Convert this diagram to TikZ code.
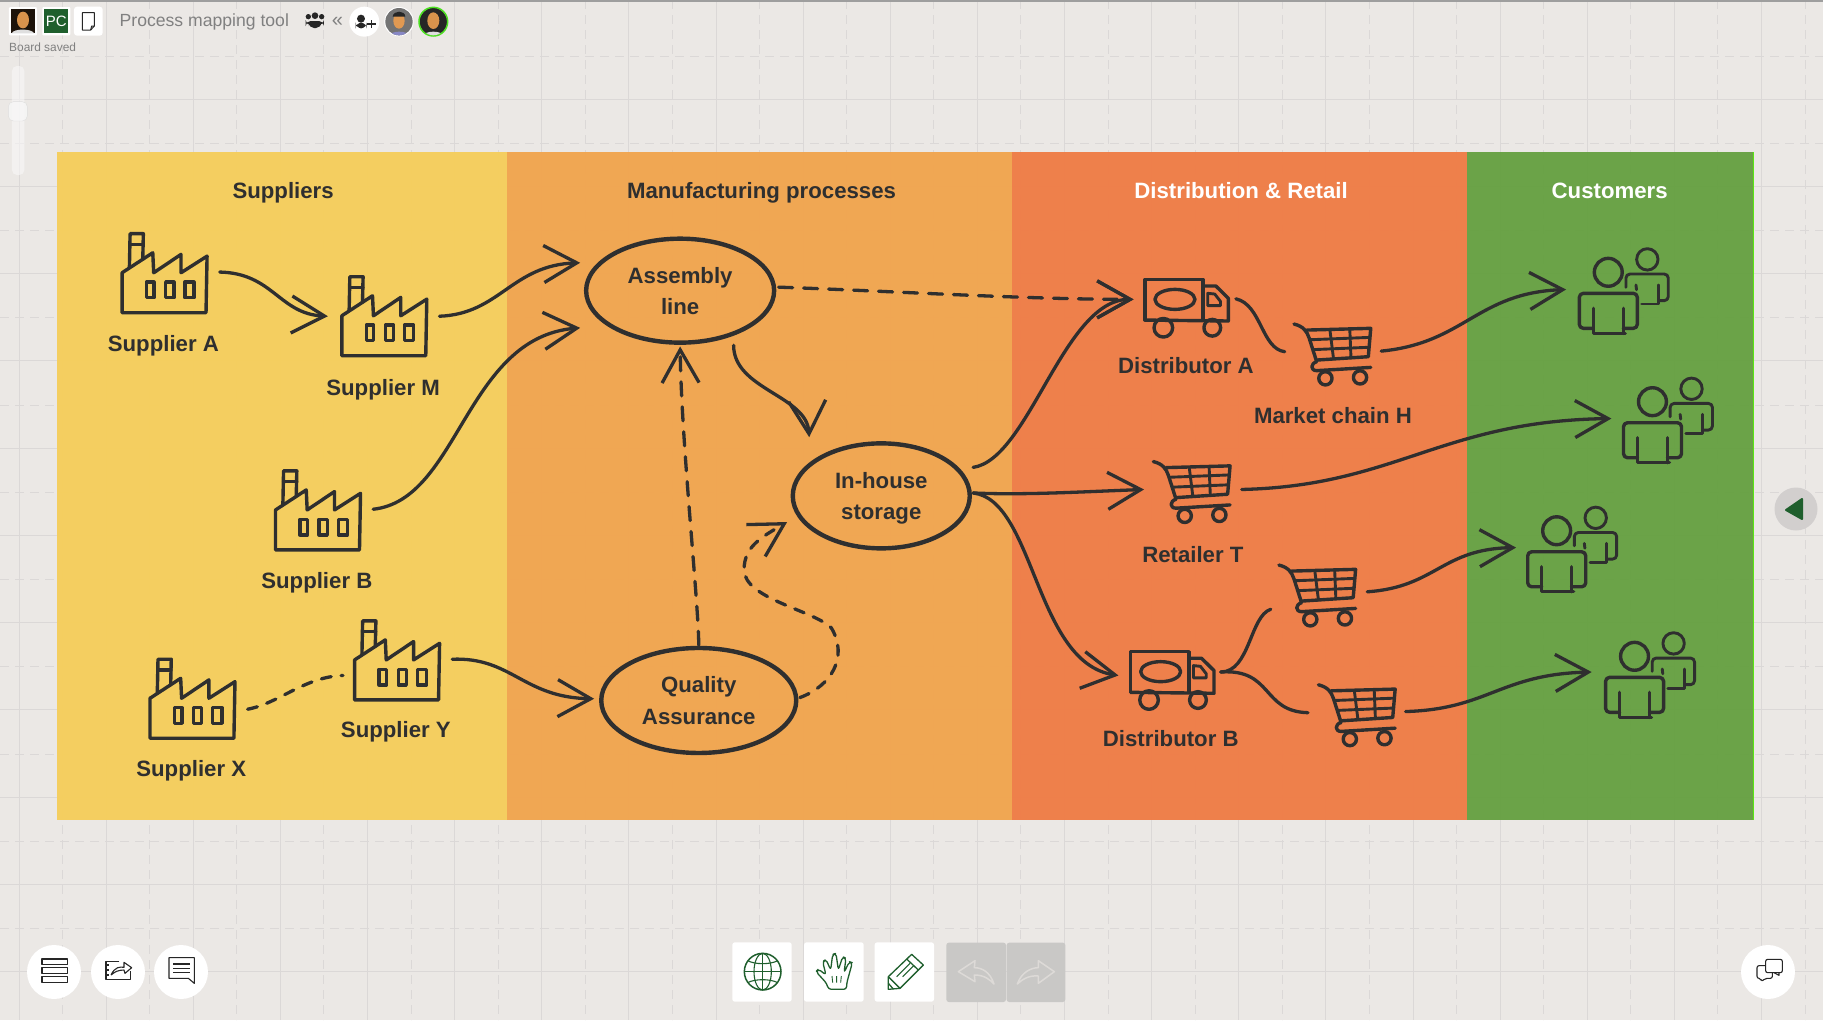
\documentclass[tikz,border=0pt]{standalone}
\usepackage{fontspec}
\setmainfont{Liberation Sans}
\usetikzlibrary{arrows.meta,shapes.geometric,calc}
\definecolor{bgc}{HTML}{EBE8E5}
\definecolor{gridc}{HTML}{DBD8D7}
\definecolor{ink}{HTML}{2F2F2F}
\definecolor{yel}{HTML}{F5CE5C}
\definecolor{org}{HTML}{F1A54F}
\definecolor{redo}{HTML}{EF7D47}
\definecolor{grn}{HTML}{67A143}
\definecolor{uigreen}{HTML}{1F5F2D}
\definecolor{btngrey}{HTML}{C9C8C6}
\tikzset{
  ico/.style={draw=ink,line width=3.4pt,line join=round,line cap=round},
  icofine/.style={draw=ink,line width=2.9pt,line join=round,line cap=round},
  flow/.style={draw=ink,line width=3.3pt,line cap=round,-{Straight Barb[length=33pt,width=37pt,line width=3.3pt]}},
  link/.style={draw=ink,line width=3.3pt,line cap=round},
  dsh/.style={dash pattern=on 14pt off 11pt},
  dshshort/.style={dash pattern=on 10pt off 10pt},
  lbl/.style={font=\fontsize{22.2}{26}\selectfont\bfseries,text=ink,inner sep=0pt,text height=15.5pt,text depth=0.5pt},
  head/.style={font=\fontsize{22.2}{26}\selectfont\bfseries,inner sep=0pt,text height=15.5pt,text depth=0.5pt},
  proc/.style={ellipse,draw=ink,line width=4.4pt,inner sep=0pt,align=center,text=ink,
    font=\fontsize{22.2}{31.4}\selectfont\bfseries},
  uiline/.style={draw=black!85,line width=1.1pt,line join=round},
  gline/.style={draw=uigreen,line width=1.1pt,line join=round},
  whitebtn/.style={fill=white,rounded corners=2.5pt},
  greybtn/.style={fill=btngrey,rounded corners=2.5pt},
  factory/.pic={
    \draw[ico] (0,0) -- (0,-34.4) -- (26.4,-51.6) -- (27.2,-34.4) -- (50.7,-50.2) -- (50.7,-34.4) -- (73.1,-48.7) -- (72.2,0) -- cycle;
    \draw[ico] (6.3,-38.7) -- (6.9,-68) -- (18.3,-68) -- (17.8,-45.9);
    \draw[ico] (6.9,-58.8) -- (18.1,-58.8);
    \draw[ico] (21,-12.9) rectangle (27.4,-26.4);
    \draw[ico] (37.5,-12.9) rectangle (44.5,-26.4);
    \draw[ico] (54,-12.9) rectangle (61.8,-26.4);
  },
  truck/.pic={
    \draw[ico] (0,35) -- (0,0) -- (50,0) -- (50,35);
    \draw[ico] (50.2,5.7) -- (61,5.7) -- (71.7,16.3) -- (71.7,35.8) -- (0,35);
    \draw[icofine] (54,12) -- (60,12.6) -- (65,19) -- (65,22.6) -- (54,22.6) -- cycle;
    \draw[ico] (25.8,17.2) ellipse[x radius=17.2,y radius=8.6];
    \draw[ico] (15.8,41.6) circle[radius=8];
    \draw[ico] (57.9,41.6) circle[radius=7.2];
  },
  cart/.pic={
    \draw[ico] (0,0) .. controls (8,2) and (11,6) .. (13,12) -- (19.5,32.4) .. controls (14,34) and (14,40) .. (19.5,40.1) -- (66,37.3);
    \draw[ico] (10.9,5.2) -- (66,3.7) -- (63.9,28.1) -- (19.5,31);
    \draw[icofine] (14,13.5) -- (65,11.5);
    \draw[icofine] (17,22) -- (64.5,20);
    \draw[icofine] (31,6) -- (34,30);
    \draw[icofine] (48,5) -- (49,29);
    \draw[ico] (27,46.7) circle[radius=5.7];
    \draw[ico] (56.8,45.9) circle[radius=5.7];
  },
  people/.pic={
    \draw[ico] (24.9,-52.5) circle[radius=12];
    \draw[ico,rounded corners=4pt] (12,-4.3) -- (0,-4.3) -- (0,-34.4) -- (49.9,-34.4) -- (49.9,-4.3) -- (37.8,-4.3);
    \draw[ico] (12,-21.5) -- (12,0) -- (39.5,0);
    \draw[ico] (37.8,-21.5) -- (37.8,0);
    \draw[icofine] (58.5,-63.6) circle[radius=9.2];
    \draw[icofine,rounded corners=4pt] (40.1,-39.6) -- (40.1,-51) -- (76.5,-51) -- (76.5,-28.1) -- (68,-28.1);
    \draw[icofine] (68,-41.6) -- (68,-25.2) -- (53.6,-25.2);
    \draw[icofine] (48.7,-41.6) -- (49.2,-37.5);
  },
}
\begin{document}
\begin{tikzpicture}[x=1pt,y=-1pt]
\useasboundingbox (0,0) rectangle (1823,1020);
\fill[bgc] (0,0) rectangle (1823,1020);
% board grid
\foreach \k in {0,...,20} {
  \draw[gridc,line width=1pt] ({19+87.13*\k},0) -- ({19+87.13*\k},1020);
  \draw[gridc,line width=1pt,dash pattern=on 9pt off 6pt] ({62.5+87.13*\k},0) -- ({62.5+87.13*\k},1020);
}
\foreach \k in {0,...,10} {
  \draw[gridc,line width=1pt] (0,{99+87.27*\k}) -- (1823,{99+87.27*\k});
  \draw[gridc,line width=1pt,dash pattern=on 9pt off 6pt] (0,{56+87.27*\k}) -- (1823,{56+87.27*\k});
}
\draw[black!38,line width=1.2pt] (0,1) -- (1823,1);
% top bar
\begin{scope}[shift={(0,0)},x=.33333pt,y=-.33333pt]
  % avatar 1
  \fill[white,rounded corners=1pt] (27,21) rectangle (111,106);
  \begin{scope}
    \clip (33,27) rectangle (105,100);
    \fill[black!85!brown] (33,27) rectangle (105,100);
    \fill[white!75!gray] (35,100) .. controls (40,85) and (95,85) .. (103,100) -- cycle;
    \fill[brown!70!orange!85!white] (69,60) ellipse[x radius=18,y radius=25];
  \end{scope}
  % PC
  \fill[white,rounded corners=1pt] (127,21) rectangle (211,106);
  \fill[uigreen] (133,27) rectangle (205,100);
  \node[text=white,font=\fontsize{15}{18}\selectfont,inner sep=0pt] (pc) at (169,64) {PC};
  % blank note
  \fill[white,rounded corners=3pt] (222,20) rectangle (308,107);
  \draw[uiline,line width=1pt] (247,38) -- (283,38) -- (283,78) -- (272,90) -- (247,90) -- cycle;
  \draw[uiline,line width=1pt] (283,78) -- (275,78) -- (272,90);
  % group icon
  \fill[black!85] (945,47) circle[radius=10];
  \fill[black!85] (925,50) circle[radius=8];
  \fill[black!85] (965,50) circle[radius=8];
  \fill[black!85,rounded corners=5pt] (917,75) -- (917,63) -- (972,63) -- (972,75) -- cycle;
  \fill[black!85,rounded corners=5pt] (927,84) -- (927,63) -- (963,63) -- (963,84) -- cycle;
  % add user
  \fill[white] (1093,65) circle[radius=45];
  \fill[black!85] (1083,56) circle[radius=12];
  \fill[black!85,rounded corners=6pt] (1067,85) -- (1067,68) -- (1100,68) -- (1100,85) -- cycle;
  \draw[black!85,line width=1.7pt] (1102,72) -- (1127,72) (1114.5,60) -- (1114.5,84);
  % avatar 2
  \fill[white] (1197,65) circle[radius=44];
  \begin{scope}
    \clip (1197,65) circle[radius=41];
    \fill[black!55] (1150,20) rectangle (1245,110);
    \fill[blue!35!gray!70!white] (1165,110) .. controls (1170,90) and (1225,90) .. (1230,110) -- cycle;
    \fill[brown!60!orange!80!white] (1197,62) ellipse[x radius=17,y radius=24];
    \fill[black!85] (1178,50) .. controls (1180,30) and (1215,30) .. (1216,50) -- cycle;
  \end{scope}
  % avatar 3
  \fill[black!85] (1300,65) circle[radius=42];
  \draw[green!70!lime!75!gray,line width=1.5pt] (1300,65) circle[radius=43];
  \begin{scope}
    \clip (1300,65) circle[radius=41];
    \fill[white!75!gray] (1265,110) .. controls (1275,90) and (1325,90) .. (1335,110) -- cycle;
    \fill[brown!70!orange!85!white] (1300,62) ellipse[x radius=18,y radius=25];
  \end{scope}
  % slider
  \fill[black!2!white,opacity=.55,rounded corners=5pt] (36,198) rectangle (73,525);
  \draw[black!15,fill=black!3!white,opacity=.8,rounded corners=5pt] (25,305) rectangle (82,363);
\end{scope}
\node[anchor=base west,text=black!50,font=\fontsize{17.6}{21}\selectfont,inner sep=0pt] (title) at (119.5,26) {Process mapping tool};
\node[anchor=base west,text=black!50,font=\fontsize{11.9}{14}\selectfont,inner sep=0pt] (saved) at (9,51) {Board saved};
\node[anchor=base,text=black!50,font=\fontsize{20}{24}\selectfont,inner sep=0pt] (chev) at (337.5,26.5) {«};
% side handle
\fill[black!4!gridc] (1796,509) circle[radius=21.5];
\fill[uigreen,draw=uigreen,line width=2pt,line join=round] (1786,510) -- (1802,499) -- (1802,519) -- cycle;
% bottom left
\fill[white] (54,972) circle[radius=27];
\fill[white] (118,972) circle[radius=27];
\fill[white] (181,972) circle[radius=27];
\fill[white] (1768,972) circle[radius=27];
\begin{scope}[shift={(0,920)},x=.33333pt,y=-.33333pt]
  \draw[uiline,line width=1.5pt] (126,117) rectangle (203,133);
  \draw[uiline,line width=1.5pt] (126,143) rectangle (203,160);
  \draw[uiline,line width=1.5pt] (126,169) rectangle (203,187);
  \draw[uiline] (358,125) -- (318,125) -- (318,178) -- (392,178) -- (392,152);
  \draw[uiline] (318,135) -- (328,135) (318,150) -- (328,150) (318,165) -- (328,165);
  \draw[uiline] (333,165) .. controls (345,140) and (360,140) .. (372,142) -- (372,127) -- (395,143) -- (375,160) -- (372,150) .. controls (355,150) and (345,155) .. (333,165);
  \draw[uiline] (507,113) -- (583,113) -- (583,190) -- (565,175) -- (507,175) -- cycle;
  \draw[uiline,line width=1.4pt] (520,132) -- (570,132) (520,145) -- (570,145) (520,158) -- (570,158);
\end{scope}
\begin{scope}[shift={(1700,920)},x=.33333pt,y=-.33333pt]
  \draw[uiline,fill=white,rounded corners=2pt] (197,118) rectangle (247,158);
  \draw[uiline,rounded corners=2pt] (197,137) -- (171,137) -- (171,175) -- (183,175) -- (185,185) -- (195,175) -- (217,175) -- (217,158);
  \draw[uiline] (222,158) -- (237,166) -- (237,158);
\end{scope}
% bottom centre toolbar
\begin{scope}[shift={(710,920)},x=.33333pt,y=-.33333pt]
  \fill[whitebtn] (67,67) rectangle (245,245);
  \fill[whitebtn] (282,67) rectangle (461,245);
  \fill[whitebtn] (494,67) rectangle (672,245);
  \fill[greybtn] (709,68) rectangle (888,246);
  \fill[greybtn] (890,68) rectangle (1066,246);
  % globe
  \draw[gline,line width=1.5pt] (158,155) circle[radius=55];
  \draw[gline] (158,155) ellipse[x radius=26,y radius=55];
  \draw[gline] (158,100) -- (158,210) (103,155) -- (213,155);
  \draw[gline] (113,122) .. controls (135,134) and (181,134) .. (203,122);
  \draw[gline] (113,188) .. controls (135,176) and (181,176) .. (203,188);
  % hand
  \draw[gline,line width=1.3pt,rounded corners=3pt] (355,208) -- (350,190) -- (318,155) -- (325,147) -- (348,165) -- (338,125) -- (348,118) -- (362,150) -- (368,103) -- (378,100) -- (385,150) -- (398,110) -- (408,115) -- (402,158) -- (418,125) -- (427,128) -- (410,190) -- (410,208) -- cycle;
  \draw[gline,line width=.9pt] (366,168) -- (368,188) (380,168) -- (380,188) (394,168) -- (392,188);
  % pencil
  \draw[gline,line width=1.3pt] (535,170) -- (605,103) -- (640,135) -- (570,205) -- (535,208) -- cycle;
  \draw[gline,line width=1.3pt] (535,170) -- (570,205) (535,190) -- (550,207) (590,117) -- (625,150);
  \draw[gline,line width=1pt] (560,170) -- (600,130) (578,170) -- (612,136);
  % undo and redo
  \draw[draw=black!6!bgc,line width=1.5pt,line join=round] (795,122) -- (745,155) -- (795,185) -- (793,165) .. controls (825,165) and (840,180) .. (852,192) .. controls (840,155) and (815,143) .. (793,143) -- cycle;
  \draw[draw=black!6!bgc,line width=1.5pt,line join=round] (985,122) -- (1033,155) -- (985,190) -- (985,168) .. controls (955,165) and (935,180) .. (922,192) .. controls (935,155) and (965,143) .. (985,143) -- cycle;
\end{scope}
% ===== the diagram, in a coordinate system of 1568 x 877 =====
\begin{scope}[x=1.16263pt,y=-1.16263pt]
  \fill[yel,opacity=.97] (48.8,131) rectangle (436,705);
  \fill[org,opacity=.97] (436,131) rectangle (870.5,705);
  \fill[redo,opacity=.97] (870.5,131) rectangle (1262,705);
  \fill[grn,opacity=.97] (1262,131) rectangle (1508.5,705);
  \fill[green!55!lime!75!grn] (1507.5,131) rectangle (1509,705);

  \node[head,text=ink] (hSup) at (243.5,164) {Suppliers};
  \node[head,text=ink] (hMan) at (655,164) {Manufacturing processes};
  \node[head,text=white] (hDis) at (1067.5,164) {Distribution \& Retail};
  \node[head,text=white] (hCus) at (1384.5,164) {Customers};

  \pic at (105,269) {factory};
  \pic at (294,306) {factory};
  \pic at (237,473) {factory};
  \pic at (129,635) {factory};
  \pic at (305,602) {factory};
  \node[lbl] (lA) at (140.5,295.5) {Supplier A};
  \node[lbl] (lM) at (329.5,334) {Supplier M};
  \node[lbl] (lB) at (272.5,500) {Supplier B};
  \node[lbl] (lX) at (164.5,661.5) {Supplier X};
  \node[lbl] (lY) at (340.5,628) {Supplier Y};

  \node[proc,minimum width=188pt,minimum height=104pt] (asm) at (585,250) {Assembly\\\smash{line}};
  \node[proc,minimum width=177pt,minimum height=105pt] (inh) at (758,426.5) {In-house\\\smash{storage}};
  \node[proc,minimum width=195pt,minimum height=105pt] (qa) at (601,602.5) {Quality\\\smash{Assurance}};

  \pic at (984.8,240.3) {truck};
  \pic at (972.5,560.5) {truck};
  \pic at (1113,278.7) {cart};
  \pic at (992,397) {cart};
  \pic at (1100,486) {cart};
  \pic at (1134,589) {cart};
  \node[lbl] (lDA) at (1020,315) {Distributor A};
  \node[lbl] (lH) at (1146.5,358) {Market chain H};
  \node[lbl] (lT) at (1026,477) {Retailer T};
  \node[lbl] (lDB) at (1007,635.5) {Distributor B};

  \pic at (1358.4,286.7) {people};
  \pic at (1396.4,398) {people};
  \pic at (1314,509) {people};
  \pic at (1381,617) {people};

  % connector ends
  \coordinate (sA) at (189,234);
  \coordinate (eM) at (282,272);
  \coordinate (sM) at (378,272);
  \coordinate (eAsm1) at (499,226);
  \coordinate (sB) at (321,438);
  \coordinate (eAsm2) at (499,282);
  \coordinate (sX) at (213,610);
  \coordinate (eY) at (295,581);
  \coordinate (sY) at (389,567);
  \coordinate (eQA) at (511,601);
  \coordinate (sAsm) at (631,297);
  \coordinate (eInh1) at (696,376);
  \coordinate (sQA1) at (601,555);
  \coordinate (eAsm3) at (585,298);
  \coordinate (sQA2) at (688,600);
  \coordinate (eInh2) at (677,449);
  \coordinate (eDA1) at (975,257.5);
  \coordinate (sInh1) at (837,402);
  \coordinate (sInh2) at (837,424);
  \coordinate (eT) at (984,421);
  \coordinate (eDB) at (962,581);
  \coordinate (sDA) at (1063,257);
  \coordinate (eH) at (1105,302.5);
  \coordinate (sH) at (1188,302);
  \coordinate (eC1) at (1347,249);
  \coordinate (sT) at (1068,421);
  \coordinate (eC2) at (1386,360);
  \coordinate (sDB) at (1050,578);
  \coordinate (eK3) at (1093,524);
  \coordinate (eK4) at (1125,613);
  \coordinate (sK3) at (1176,509);
  \coordinate (eC3) at (1304,471);
  \coordinate (sK4) at (1209,612);
  \coordinate (eC4) at (1369,578);

  \draw[flow] (sA) .. controls (235,235) and (240,270) .. (eM);
  \draw[flow] (sM) .. controls (430,270) and (440,228) .. (eAsm1);
  \draw[flow] (sB) .. controls (395,430) and (400,290) .. (eAsm2);
  \draw[link,dshshort] (sX) .. controls (240,605) and (262,582) .. (eY);
  \draw[flow] (sY) .. controls (440,565) and (450,600) .. (eQA);
  \draw[flow] (sAsm) .. controls (631,335) and (694,340) .. (eInh1);
  \draw[flow,dsh] (sQA1) .. controls (601,520) and (586,380) .. (eAsm3);
  \draw[flow,dshshort] (sQA2) .. controls (715,590) and (730,565) .. (715,540) .. controls (700,525) and (640,515) .. (640,490) .. controls (640,470) and (655,462) .. (eInh2);
  \draw[flow,dsh] ($(asm.east)+(2,-3)$) .. controls (760,250) and (880,257.5) .. (eDA1);
  \draw[flow] (sInh1) .. controls (885,395) and (915,257.5) .. (eDA1);
  \draw[flow] (sInh2) .. controls (880,426) and (930,423) .. (eT);
  \draw[flow] (sInh2) .. controls (890,430) and (890,570) .. (eDB);
  \draw[link] (sDA) .. controls (1085,262) and (1085,300) .. (eH);
  \draw[flow] (sH) .. controls (1260,295) and (1270,252) .. (eC1);
  \draw[flow] (sT) .. controls (1200,418) and (1240,362) .. (eC2);
  \draw[link] (sDB) .. controls (1075,578) and (1075,530) .. (eK3);
  \draw[link] (sDB) .. controls (1095,575) and (1085,612) .. (eK4);
  \draw[flow] (sK3) .. controls (1235,505) and (1240,472) .. (eC3);
  \draw[flow] (sK4) .. controls (1280,610) and (1290,580) .. (eC4);
\end{scope}
\end{tikzpicture}
\end{document}
